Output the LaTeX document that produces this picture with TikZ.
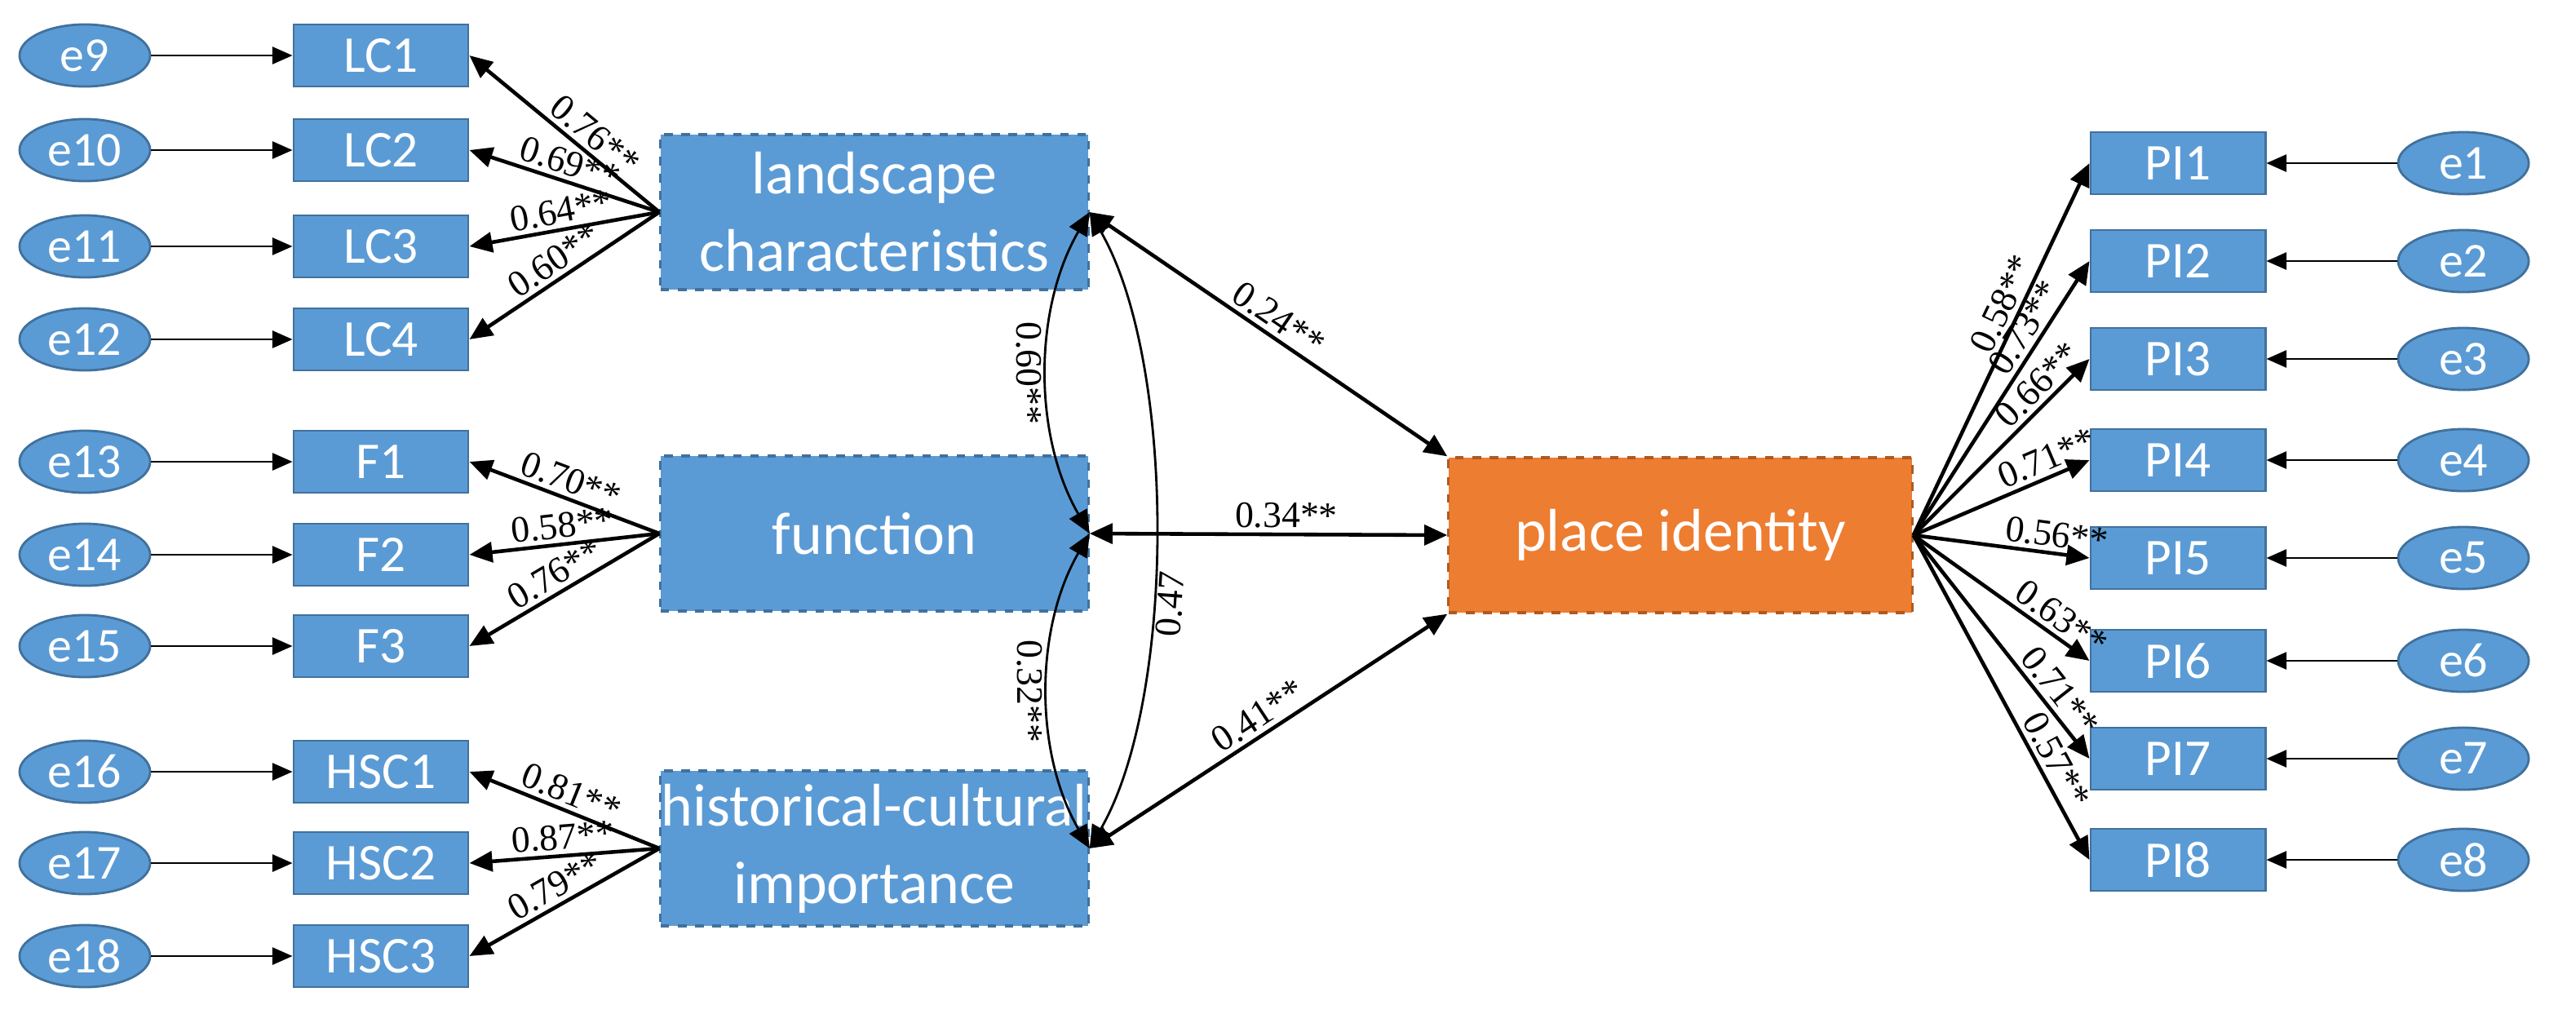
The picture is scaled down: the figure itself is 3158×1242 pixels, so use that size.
\documentclass[tikz,border=0pt]{standalone}
\usepackage{fontspec}
\setmainfont{Liberation Serif}
\newfontfamily\calfnt{Carlito}
\usetikzlibrary{arrows.meta,shapes.geometric}
\definecolor{bl}{HTML}{5B9BD5}
\definecolor{bld}{HTML}{41719C}
\definecolor{org}{HTML}{ED7D31}
\definecolor{orgd}{HTML}{AE5A21}
\begin{document}
\begin{tikzpicture}[x=0.01cm,y=-0.01cm,
  err/.style={ellipse,fill=bl,draw=bld,line width=0.8pt,minimum width=1.6cm,minimum height=0.76cm,inner sep=0pt,text=white,font=\calfnt\fontsize{17}{20}\selectfont},
  obs/.style={rectangle,fill=bl,draw=bld,line width=0.8pt,minimum width=2.14cm,minimum height=0.76cm,inner sep=0pt,text=white,font=\calfnt\fontsize{18}{21}\selectfont},
  lat/.style={rectangle,fill=bl,draw=bld,dashed,line width=0.9pt,minimum width=5.24cm,minimum height=1.9cm,inner sep=0pt,align=center,text=white,font=\calfnt\fontsize{21}{27}\selectfont},
  pil/.style={lat,fill=org,draw=orgd,minimum width=5.68cm},
  ea/.style={-{Triangle[length=7pt,width=6pt]},line width=0.7pt},
  la/.style={-{Triangle[length=8pt,width=7pt]},line width=1.3pt},
  da/.style={{Triangle[length=8pt,width=7pt]}-{Triangle[length=8pt,width=7pt]},line width=1.3pt},
  ca/.style={{Triangle[length=8pt,width=7pt]}-{Triangle[length=8pt,width=7pt]},line width=0.8pt},
  lb/.style={sloped,font=\fontsize{13}{14}\selectfont,inner sep=1.5pt}]
\useasboundingbox (0,0) rectangle (3158,1242);
\foreach \n/\t/\y in {e9/LC1/68,e10/LC2/184,e11/LC3/302,e12/LC4/416,e13/F1/566,e14/F2/680,e15/F3/792,e16/HSC1/946,e17/HSC2/1058,e18/HSC3/1172}{
  \node[err] (\n) at (104,\y) {\n};
  \node[obs] (\t) at (467,\y) {\t};
  \draw[ea] (\n) -- (\t);
}
\foreach \n/\t/\y in {e1/PI1/200,e2/PI2/320,e3/PI3/440,e4/PI4/564,e5/PI5/684,e6/PI6/810,e7/PI7/930,e8/PI8/1054}{
  \node[err] (\n) at (3020,\y) {\n};
  \node[obs] (\t) at (2670,\y) {\t};
  \draw[ea] (\n) -- (\t);
}
\node[lat] (LC) at (1072,260) {landscape\\characteristics};
\node[lat] (FN) at (1072,654) {function};
\node[lat] (HC) at (1072,1040) {historical-cultural\\importance};
\node[pil] (PI) at (2060,656) {place identity};
\draw[la] (LC.west) -- node[lb,above,pos=0.4]{0.76**} (LC1.east);
\draw[la] (LC.west) -- node[lb,above,pos=0.5]{0.69**} (LC2.east);
\draw[la] (LC.west) -- node[lb,above,pos=0.5]{0.64**} (LC3.east);
\draw[la] (LC.west) -- node[lb,above,pos=0.5]{0.60**} (LC4.east);
\draw[la] (FN.west) -- node[lb,above,pos=0.5]{0.70**} (F1.east);
\draw[la] (FN.west) -- node[lb,above,pos=0.5]{0.58**} (F2.east);
\draw[la] (FN.west) -- node[lb,above,pos=0.5]{0.76**} (F3.east);
\draw[la] (HC.west) -- node[lb,above,pos=0.5]{0.81**} (HSC1.east);
\draw[la] (HC.west) -- node[lb,above,pos=0.5]{0.87**} (HSC2.east);
\draw[la] (HC.west) -- node[lb,above,pos=0.5]{0.79**} (HSC3.east);
\foreach \t/\l/\p in {PI1/0.58**/0.6,PI2/0.73**/0.72,PI3/0.66**/0.78,PI4/0.71**/0.8,PI5/0.56**/0.8,PI6/0.63**/0.78,PI7/0.71**/0.75,PI8/0.57**/0.72}
  \draw[la] (PI.east) -- node[lb,above,pos=\p]{\l} (\t.west);
\draw[da] (LC.east) -- node[lb,above,pos=0.5]{0.24**} (PI.north west);
\draw[da] (FN.east) -- node[lb,above,pos=0.55]{0.34**} (PI.west);
\draw[da] (HC.east) -- node[lb,above,pos=0.5]{0.41**} (PI.south west);
\draw[ca] (LC.east) to[out=240,in=120,looseness=0.9] node[lb,below,pos=0.5]{0.60**} (FN.east);
\draw[ca] (FN.east) to[out=240,in=120,looseness=0.9] node[lb,below,pos=0.5]{0.32**} (HC.east);
\draw[ca] (LC.east) to[out=300,in=60,looseness=0.7] node[lb,below,pos=0.6]{0.47} (HC.east);
\end{tikzpicture}
\end{document}
